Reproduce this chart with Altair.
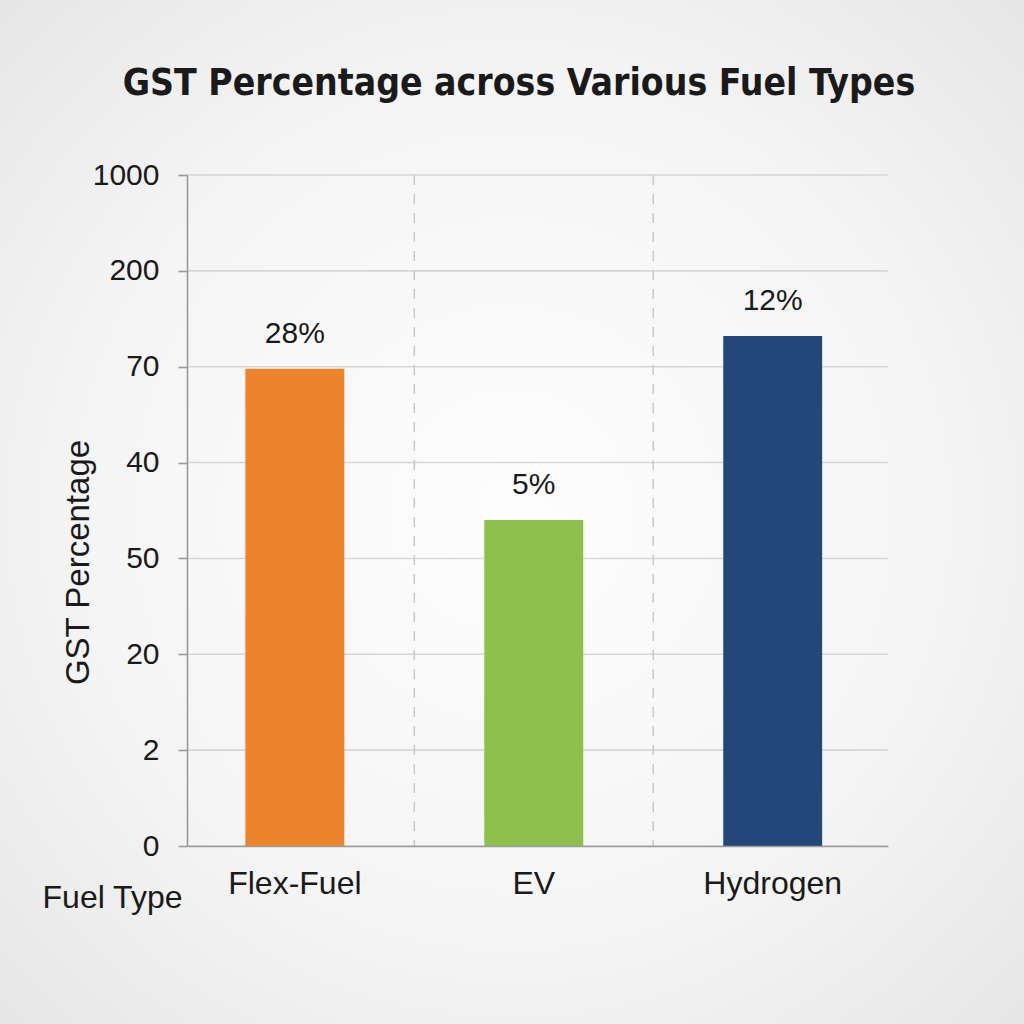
import altair as alt
import pandas as pd

# Chart content
chart_title = "GST Percentage across Various Fuel Types"
fuel_types = ["Flex-Fuel", "EV", "Hydrogen"]
bar_levels = [4.98, 3.40, 5.32]          # bar heights in axis steps
gst_labels = ["28%", "5%", "12%"]
bar_colors = ["#ED832A", "#8DC04C", "#24477A"]
tick_labels = ["0", "2", "20", "50", "40", "70", "200", "1000"]

bars_df = pd.DataFrame({
    "fuel": fuel_types,
    "level": bar_levels,
    "label": gst_labels,
    "color": bar_colors,
})
ticks_df = pd.DataFrame({"level": list(range(len(tick_labels)))})
sep_df = pd.DataFrame({"fuel": fuel_types[1:]})
one_df = pd.DataFrame({"k": [0]})

label_expr = "[" + ",".join(f"'{t}'" for t in tick_labels) + "][datum.value]"

W, H = 701, 671
FONT = "Liberation Sans"
TITLE_FONT = "'Liberation Sans Narrow', 'DejaVu Sans Condensed', 'Roboto Condensed', sans-serif"
INK = "#1a1a1a"

x_scale = alt.Scale(domain=fuel_types, paddingInner=0.586,
                    paddingOuter=0.26, align=0.47)
y_scale = alt.Scale(domain=[0, len(tick_labels) - 1], nice=False, zero=True)

x_axis = alt.Axis(
    title="Fuel Type", titleFont=FONT, titleFontSize=32,
    titleFontWeight="normal", titleColor=INK,
    titleX=-75, titleY=51, titleBaseline="middle",
    labelFont=FONT, labelFontSize=32, labelColor=INK,
    labelPadding=22, labelAngle=0, ticks=False,
    domainColor="#9a9a9a", domainWidth=1.6, grid=False, zindex=2,
)
y_axis = alt.Axis(
    title="GST Percentage", titleFont=FONT, titleFontSize=33,
    titleFontWeight="normal", titleColor=INK,
    titleX=-109, titleY=387, titleBaseline="middle", titleAngle=-90,
    values=list(range(len(tick_labels))), labelExpr=label_expr,
    labelFont=FONT, labelFontSize=30, labelColor=INK,
    labelPadding=19, tickSize=9, tickColor="#9a9a9a", tickWidth=1.6,
    domainColor="#9a9a9a", domainWidth=1.6, grid=False, zindex=2,
)

# soft radial backdrop covering the whole canvas
backdrop = alt.Chart(one_df).mark_rect(
    color=alt.RadialGradient(
        gradient="radial",
        stops=[alt.GradientStop(offset=0, color="#fdfdfd"),
               alt.GradientStop(offset=0.55, color="#f5f5f5"),
               alt.GradientStop(offset=1, color="#e4e4e4")],
        x1=0.5, y1=0.5, r1=0, x2=0.5, y2=0.5, r2=0.75,
    )
).encode(
    x=alt.value(-187), x2=alt.value(837),
    y=alt.value(-175), y2=alt.value(849),
)

# heading drawn as a text mark above the plot area
heading = alt.Chart(one_df).mark_text(
    font=TITLE_FONT, fontSize=37, fontWeight="bold",
    color=INK, align="center", baseline="alphabetic",
).encode(
    x=alt.value(332), y=alt.value(-80), text=alt.value(chart_title),
)

grid = alt.Chart(ticks_df).mark_rule(color="#d6d6d6", strokeWidth=1.6).encode(
    y=alt.Y("level:Q", scale=y_scale, axis=y_axis),
    x=alt.value(0), x2=alt.value(W),
)

# dashed separators halfway between neighbouring bars
separators = alt.Chart(sep_df).mark_rule(
    color="#c8c8c8", strokeWidth=1.5, strokeDash=[10, 9], xOffset=-70
).encode(
    x=alt.X("fuel:N", scale=x_scale, bandPosition=0, axis=x_axis),
    y=alt.value(0), y2=alt.value(H),
)

bars = alt.Chart(bars_df).mark_bar().encode(
    x=alt.X("fuel:N", scale=x_scale, sort=fuel_types, axis=x_axis),
    y=alt.Y("level:Q", scale=y_scale, axis=y_axis),
    color=alt.Color("color:N", scale=None),
)

labels = alt.Chart(bars_df).mark_text(
    font=FONT, fontSize=30, color=INK, baseline="alphabetic", dy=-26
).encode(
    x=alt.X("fuel:N", scale=x_scale, sort=fuel_types, axis=x_axis),
    y=alt.Y("level:Q", scale=y_scale, axis=y_axis),
    text="label:N",
)

chart = alt.layer(backdrop, heading, grid, separators, bars, labels).properties(
    width=W, height=H,
    autosize=alt.AutoSizeParams(type="none"),
    padding={"left": 187, "top": 175, "right": 136, "bottom": 178},
    background="#eeeeee",
).configure_view(stroke=None)

chart.save("out.html", embed_options={"renderer": "svg", "actions": False})
